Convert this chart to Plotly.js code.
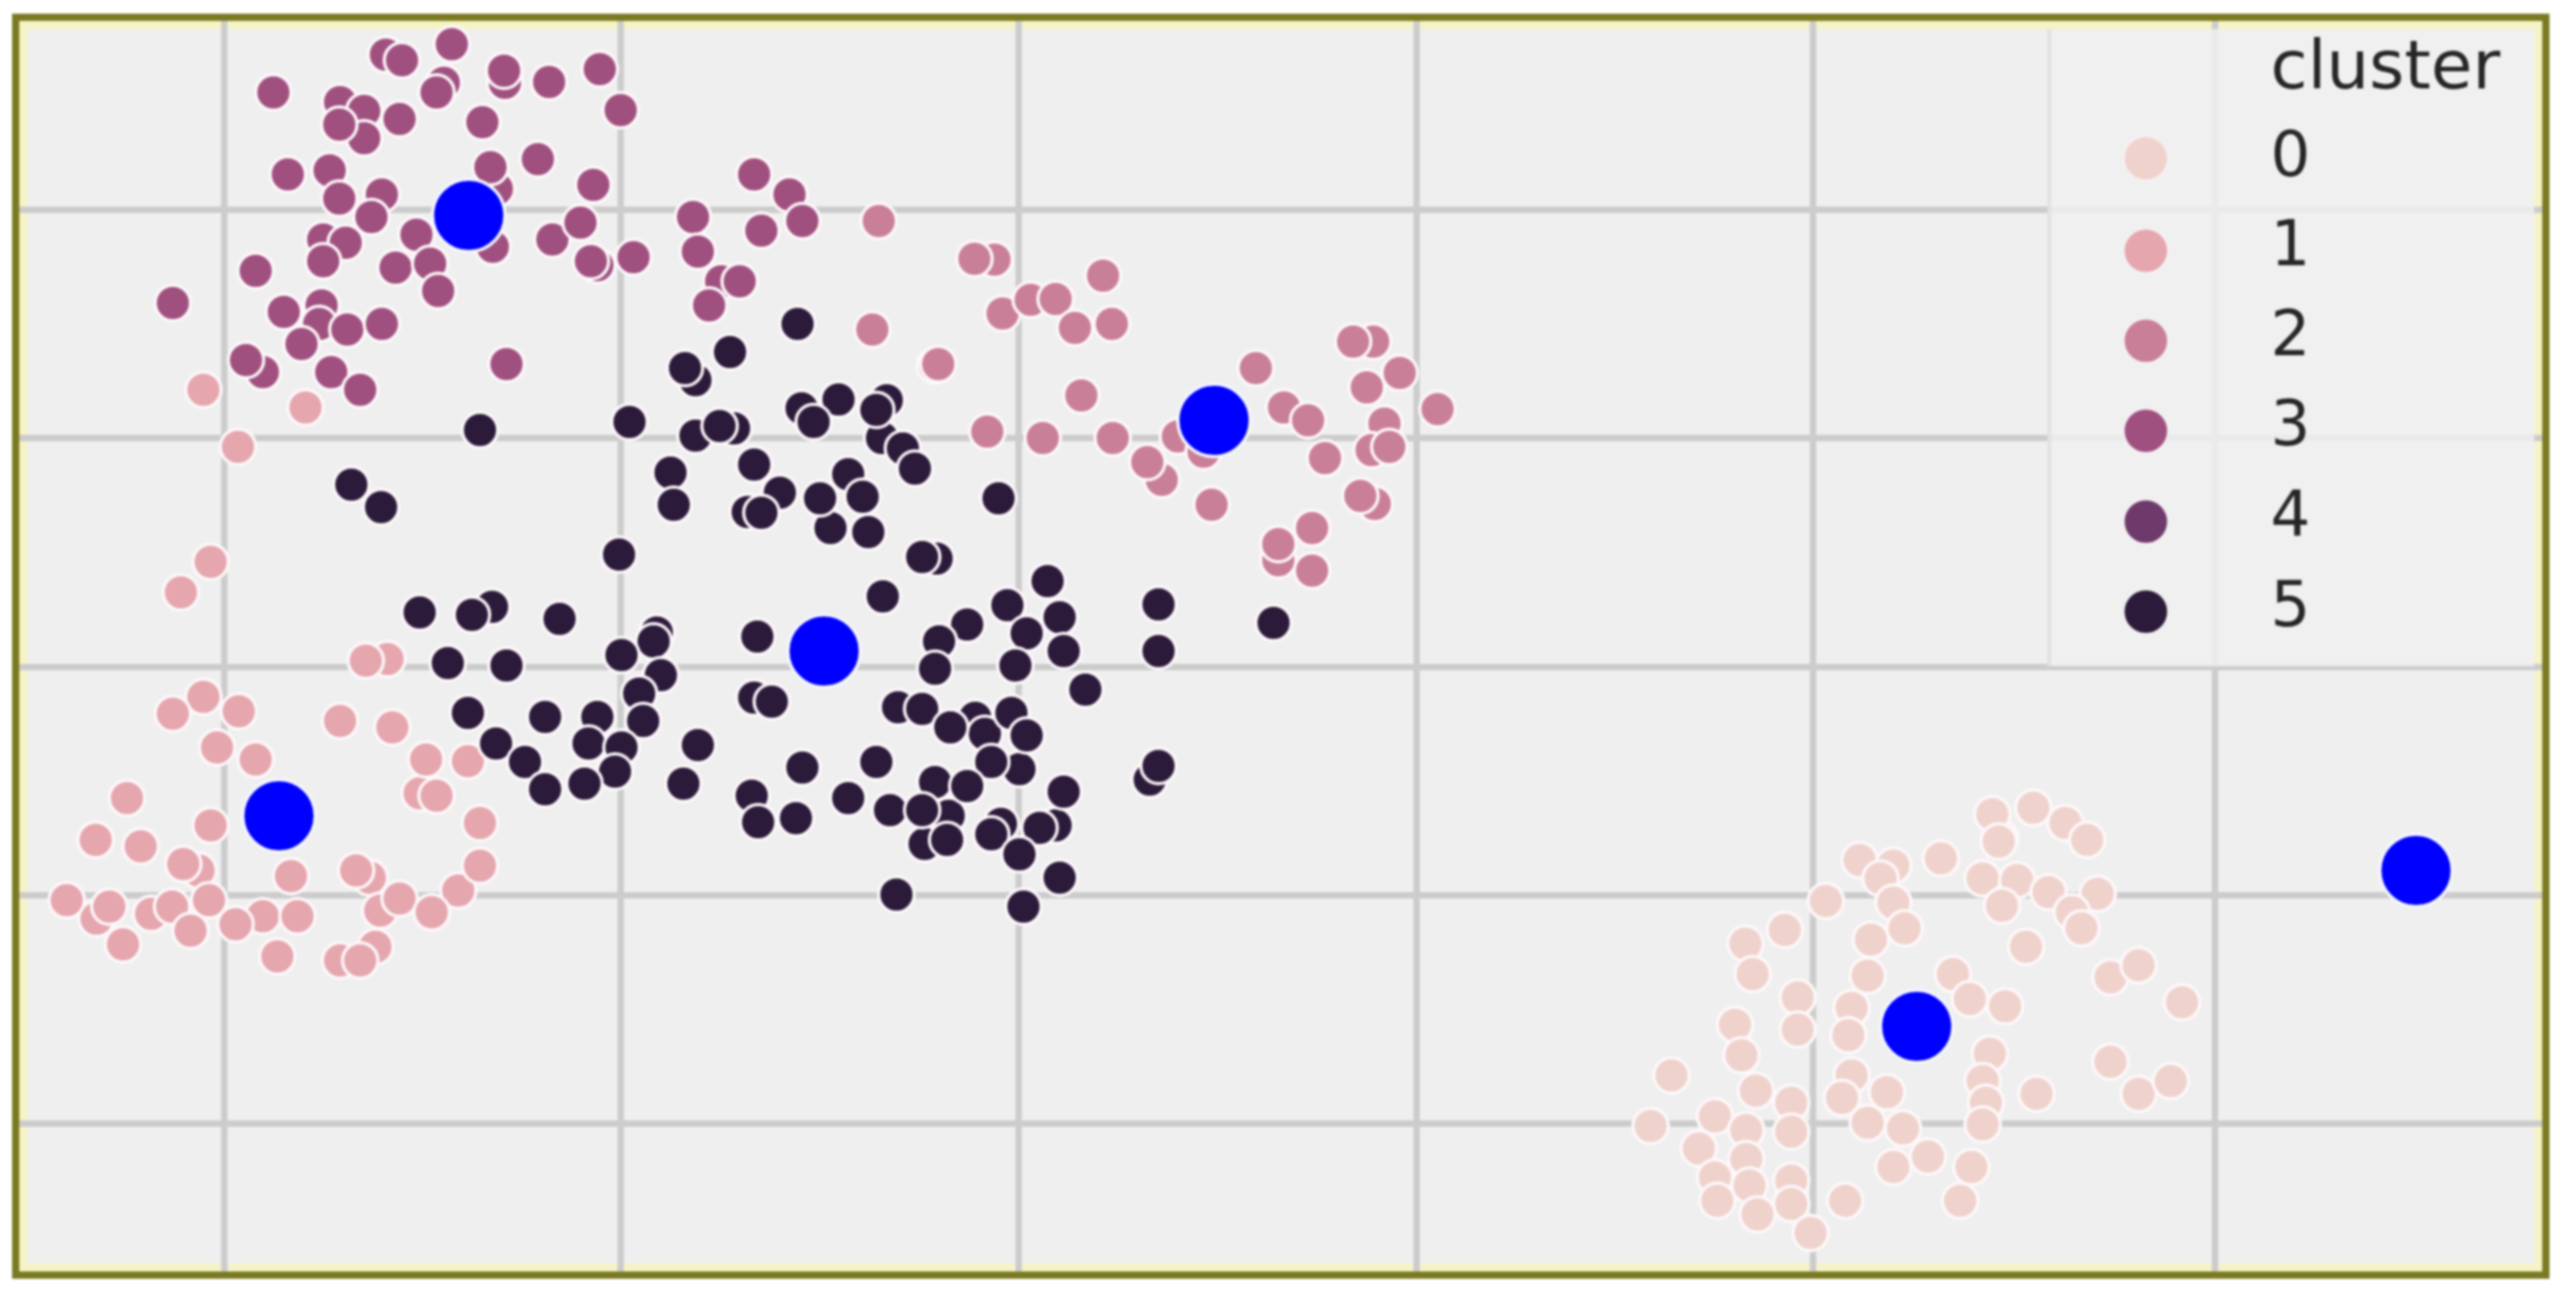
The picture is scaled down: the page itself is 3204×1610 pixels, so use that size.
<!DOCTYPE html>
<html>
<head>
<meta charset="utf-8">
<script src="https://cdn.plot.ly/plotly-3.0.1.min.js"></script>
<style>html,body{margin:0;padding:0;background:#fff}#chart{width:3204px;height:1610px;filter:blur(1.5px)}</style>
</head>
<body>
<div id="chart"></div>
<script>
// Values are read off the picture. The source axes carry no labels, so units are those of the reference image.
const clusterNames = ['0','1','2','3','4','5'];
const clusterColors = ['#efd2cc','#e5a6ae','#c97f98','#a0507f','#6e3a6c','#2c1a3a'];

const c0x = [2488,2529,2478,2569,2486,2596,2414,2313,2355,2339,2466,2509,2548,2609,2271,2355,2490,2577,2220,2369,2589,2327,2171,2520,2180,2323,2429,2625,2660,2236,2450,2494,2714,2303,2158,2236,2299,2475,2166,2625,2079,2303,2466,2660,2700,2533,2184,2347,2228,2291,2470,2133,2053,2172,2228,2323,2367,2466,2113,2172,2398,2355,2452,2133,2228,2176,2136,2228,2295,2438,2186,2252];
const c0y = [1043,1005,1013,1024,1047,1045,1068,1070,1077,1093,1093,1095,1110,1112,1121,1123,1127,1135,1157,1155,1155,1169,1174,1178,1212,1214,1212,1216,1201,1241,1243,1252,1247,1254,1275,1281,1288,1311,1313,1321,1338,1338,1345,1361,1345,1361,1357,1359,1372,1366,1372,1389,1401,1406,1408,1397,1404,1399,1429,1442,1439,1452,1452,1465,1469,1475,1494,1498,1494,1494,1511,1534];

const c1x = [482,522,247,460,473,188,327,120,423,467,225,262,455,253,215,297,270,318,423,488,530,582,543,158,262,119,175,228,362,443,570,497,537,83,136,214,260,370,293,237,153,345,448,253,380,296,597,597];
const c1y = [820,987,1083,1092,1133,1137,1140,1143,1195,1178,737,699,822,867,888,885,930,945,897,905,945,947,990,993,1027,1045,1053,1075,1090,1083,1108,1118,1135,1120,1128,1128,1120,1140,1150,1158,1175,1190,1195,485,507,556,1024,1077];

const c2x = [1237,1465,1497,1590,1708,1710,1445,1212,1372,1247,1282,1313,1337,1383,1163,1345,1228,1297,1384,1427,1562,1597,1627,1648,1507,1632,1590,1632,1683,1741,1700,1788,1722,1706,1728,1692,1093,1085,1167];
const c2y = [323,543,562,697,425,627,597,322,343,390,373,372,408,403,455,492,537,545,545,575,458,507,523,570,628,657,677,710,425,464,482,509,527,560,556,617,275,410,453];

const c3x = [480,628,552,423,453,453,618,613,402,430,400,397,327,743,897,340,500,562,627,683,543,422,497,600,610,669,358,410,422,475,462,518,687,402,318,492,535,545,215,353,432,475,375,306,412,448,630,746,772,738,938,982,862,722,998,947,868,735,788,920,882];
const c3y = [68,103,103,127,138,172,235,307,298,302,380,403,463,330,350,115,75,55,88,102,115,155,148,152,208,198,217,212,247,242,270,292,298,325,337,333,328,362,377,388,410,403,428,448,463,485,453,86,137,230,217,242,270,277,275,287,313,325,320,350,380];

const c4x = [];
const c4y = [];

const c5x = [865,865,913,997,1103,1097,930,1033,612,817,938,1117,1165,1213,1268,1245,1313,1150,1430,1180,1225,992,908,852,783,895,1043,1012,1090,1123,1138,834,838,938,970,947,1055,1020,1073,1080,770,1147,1242,1303,597,437,474,522,587,696,557,630,813,773,822,795,942,582,678,743,800,617,732,773,868,653,765,678,727,850,935,960,998,943,990,1098,1253,1318,1203,1168,1277,1323,1263,1163,1350,1147,1182,1258,1277,1233,1090,1163,1203,1323,1055,1107,1147,1233,1293,1178,1268,1318,1115,1273,1441,1441,1584,1441];
const c5y = [473,542,533,508,498,545,637,657,755,787,868,880,695,893,957,1025,1027,1050,970,1015,913,403,438,458,525,530,497,525,510,558,583,588,628,578,613,638,590,620,618,662,690,693,620,723,535,603,631,762,765,770,825,828,798,815,840,863,792,887,892,892,897,925,925,930,927,948,960,982,975,975,990,873,955,1023,1018,742,753,768,777,798,788,810,828,832,858,882,905,887,915,948,948,973,978,985,993,1008,1008,1038,1030,1045,1063,1092,1113,1128,752,810,775,953];

const centerX = [2384,347,1510,583,3005,1025];
const centerY = [1277,1015,523,268,1083,810];

const gridX = [279,772,1267,1762,2255,2755];
const gridY = [261,545,830,1114,1398];

const legendTitle = 'cluster';
const legendKeyX = [2669,2669,2669,2669,2669,2669];
const legendKeyY = [197,312,424,536,649,761];
const legendTextX = 2823;
const legendTextY = [192,303,415,527,640,752];
const legendTitleY = 81;

const seriesX = [c0x,c1x,c2x,c3x,c4x,c5x];
const seriesY = [c0y,c1y,c2y,c3y,c4y,c5y];

const traces = clusterNames.map((name,i)=>({
  type:'scatter',mode:'markers',name:name,x:seriesX[i],y:seriesY[i],showlegend:false,hoverinfo:'skip',
  marker:{size:44,color:clusterColors[i],line:{color:'#fdf8fa',width:4}}
}));
traces.push({type:'scatter',mode:'markers',name:'centers',x:centerX,y:centerY,showlegend:false,hoverinfo:'skip',
  marker:{size:90,color:'#0000ff',line:{color:'#f4f6ff',width:4}}});
traces.push({type:'scatter',mode:'markers',name:'legend keys',x:legendKeyX,y:legendKeyY,showlegend:false,hoverinfo:'skip',
  marker:{size:55,color:clusterColors,line:{color:'#f8f4f6',width:2}}});

const textFont = {family:'"DejaVu Sans", sans-serif',size:78,color:'#262626'};
const titleFont = {family:'"DejaVu Sans", sans-serif',size:84,color:'#262626'};
const annotations = clusterNames.map((name,i)=>({
  xref:'x',yref:'y',x:legendTextX,y:legendTextY[i],text:name,showarrow:false,xanchor:'left',yanchor:'middle',font:textFont,borderpad:0
}));
annotations.push({xref:'x',yref:'y',x:legendTextX,y:legendTitleY,text:legendTitle,showarrow:false,xanchor:'left',yanchor:'middle',font:titleFont,borderpad:0});

const axisBase = {showline:true,mirror:true,linecolor:'#7a7a22',linewidth:9,showgrid:true,gridcolor:'#cccccc',gridwidth:8,
  zeroline:false,ticks:'',showticklabels:false,fixedrange:true,tickmode:'array'};

const layout = {
  width:3204,height:1610,
  margin:{l:24,r:42,t:26,b:28,pad:0},
  paper_bgcolor:'#ffffff',plot_bgcolor:'#efefef',
  showlegend:false,
  xaxis:Object.assign({},axisBase,{range:[24,3162],tickvals:gridX}),
  yaxis:Object.assign({},axisBase,{range:[1582,26],tickvals:gridY}),
  annotations:annotations,
  shapes:[
    {type:'rect',layer:'below',xref:'x',yref:'y',x0:29,x1:3157,y0:31,y1:1577,line:{color:'#f6f3c6',width:10},fillcolor:'rgba(0,0,0,0)'},
    {type:'rect',layer:'between',xref:'x',yref:'y',x0:2549,x1:3152,y0:36,y1:829,line:{width:0},fillcolor:'rgba(240,240,240,0.82)'},
    {type:'line',layer:'between',xref:'x',yref:'y',x0:2549,x1:2549,y0:36,y1:829,line:{color:'#e2e2e2',width:5}}
  ]
};
Plotly.newPlot('chart',traces,layout,{staticPlot:true,displayModeBar:false});
</script>
</body>
</html>
